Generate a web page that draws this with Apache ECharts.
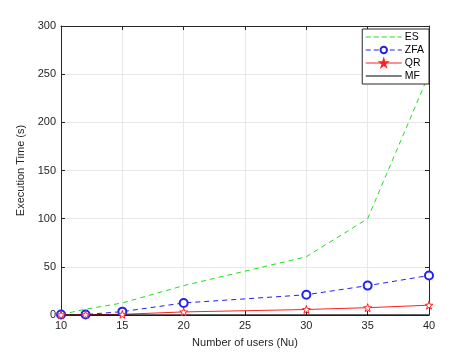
<!DOCTYPE html>
<html><head><meta charset="utf-8">
<script src="https://cdn.jsdelivr.net/npm/echarts@6/dist/echarts.min.js"></script>
<style>html,body{margin:0;padding:0;background:#fff}#c{width:474px;height:355px}</style>
</head><body><div id="c"></div>
<script>
const users = [10, 12, 15, 20, 30, 35, 40];
const esValues = [0.5, 6, 12.5, 30.5, 60.5, 100, 250];
const zfaValues = [0.5, 0.5, 3.5, 12.5, 21, 30.5, 41];
const qrValues = [0.2, 0.3, 0.7, 3.2, 5.7, 7.6, 10.2];
const mfValues = [0.1, 0.1, 0.1, 0.1, 0.1, 0.1, 0.1];
const xTicks = [10, 15, 20, 25, 30, 35, 40];
const yTicks = [0, 50, 100, 150, 200, 250, 300];
const seriesNames = ['ES', 'ZFA', 'QR', 'MF'];

const pair = v => users.map((u, i) => [u, v[i]]);
const star = 'path://M100 0 L122.5 69.1 L195.1 69.1 L136.3 111.8 L158.8 180.9 L100 138.2 L41.2 180.9 L63.7 111.8 L4.9 69.1 L77.5 69.1 Z';
const font = 'Liberation Sans, Arial, sans-serif';
const axisCol = '#262626';
const cES = '#22dd22', cZFA = '#2222ee', cQR = '#ff2020', cMF = '#000';

const chart = echarts.init(document.getElementById('c'));
const baseX = {
  type: 'value', min: xTicks[0], max: xTicks[xTicks.length - 1], interval: 5,
  axisLine: {show: true, onZero: false, lineStyle: {color: axisCol, width: 1}},
  axisTick: {show: true, inside: true, length: 4, lineStyle: {color: axisCol}}
};
const baseY = {
  type: 'value', min: yTicks[0], max: yTicks[yTicks.length - 1], interval: 50,
  axisLine: {show: true, onZero: false, lineStyle: {color: axisCol, width: 1}},
  axisTick: {show: true, inside: true, length: 4, lineStyle: {color: axisCol}}
};
chart.setOption({
  animation: false,
  backgroundColor: '#fff',
  grid: {left: 61, right: 45, top: 26, bottom: 40},
  legend: {
    data: [
      {name: seriesNames[0], itemStyle: {opacity: 0}, lineStyle: {color: cES, width: 1, type: [5, 3]}},
      {name: seriesNames[1], lineStyle: {color: cZFA, width: 1, type: [5, 3]}},
      {name: seriesNames[2], lineStyle: {color: cQR, width: 1}},
      {name: seriesNames[3], itemStyle: {opacity: 0}, lineStyle: {color: cMF, width: 1}}
    ],
    orient: 'vertical', right: 45, top: 29,
    backgroundColor: '#fff', borderColor: axisCol, borderWidth: 1,
    padding: [2, 5, 2, 3], itemGap: 1, itemWidth: 36, itemHeight: 8,
    align: 'left',
    textStyle: {fontFamily: font, fontSize: 10.5, lineHeight: 12, color: '#000', padding: [0,0,0,-2]}
  },
  xAxis: [
    Object.assign({}, baseX, {
      position: 'bottom',
      name: 'Number of users (Nu)', nameLocation: 'middle', nameGap: 22,
      nameTextStyle: {fontFamily: font, fontSize: 11, color: axisCol},
      axisLabel: {fontFamily: font, fontSize: 11, color: axisCol, margin: 5},
      splitLine: {show: true, lineStyle: {color: '#e8e8e8', width: 1}}
    }),
    Object.assign({}, baseX, {position: 'top', axisLabel: {show: false}, splitLine: {show: false}})
  ],
  yAxis: [
    Object.assign({}, baseY, {
      position: 'left',
      name: 'Execution Time (s)', nameLocation: 'middle', nameGap: 23,
      nameTextStyle: {fontFamily: font, fontSize: 11, color: axisCol},
      axisLabel: {fontFamily: font, fontSize: 11, color: axisCol, margin: 5},
      splitLine: {show: true, lineStyle: {color: '#e8e8e8', width: 1}}
    }),
    Object.assign({}, baseY, {position: 'right', axisLabel: {show: false}, splitLine: {show: false}})
  ],
  series: [
    {name: 'ES', type: 'line', data: pair(esValues), symbol: 'none',
     lineStyle: {color: cES, width: 1, type: [5, 4]}, itemStyle: {color: cES}},
    {name: 'ZFA', type: 'line', data: pair(zfaValues), symbol: 'emptyCircle', symbolSize: 8,
     lineStyle: {color: cZFA, width: 1, type: [5, 4]},
     itemStyle: {color: cZFA, borderColor: cZFA, borderWidth: 1}},
    {name: 'QR', type: 'line', data: pair(qrValues), symbol: star, symbolSize: 8,
     lineStyle: {color: cQR, width: 1},
     itemStyle: {color: '#fff', borderColor: cQR, borderWidth: 1}},
    {name: 'MF', type: 'line', data: pair(mfValues), symbol: 'none',
     lineStyle: {color: cMF, width: 1}, itemStyle: {color: cMF}}
  ]
});
</script></body></html>
